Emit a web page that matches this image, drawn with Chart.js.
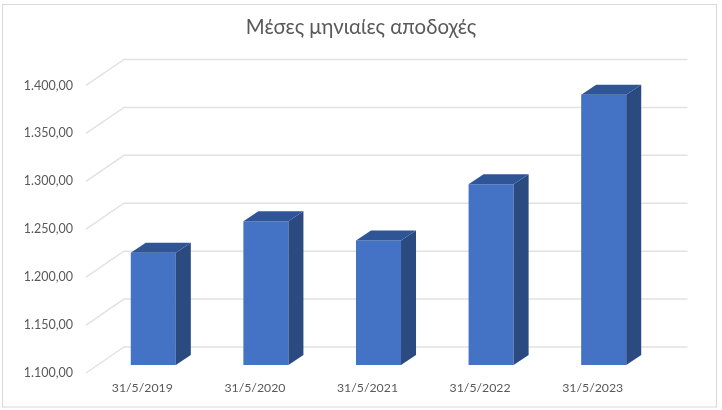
<!DOCTYPE html>
<html lang="el">
<head>
<meta charset="utf-8">
<title>Μέσες μηνιαίες αποδοχές</title>
<script src="https://cdn.jsdelivr.net/npm/chart.js@4"></script>
<style>
    html, body { margin: 0; background: #fff; }
    canvas { display: block; }
</style>
</head>
<body>
<canvas id="salaryChart" width="722" height="410"></canvas>
<script>
const chartTitle = 'Μέσες μηνιαίες αποδοχές';
const categories = ['31/5/2019', '31/5/2020', '31/5/2021', '31/5/2022', '31/5/2023'];
const salaries = [1217, 1250, 1230, 1288.5, 1382];
const yTickLabels = ['1.100,00', '1.150,00', '1.200,00', '1.250,00', '1.300,00', '1.350,00', '1.400,00'];
const yMin = 1100;
const yMax = 1400;

const fontFamily = 'Lato, "Noto Sans", sans-serif';
const textColor = '#595959';

// Fake 3D column look, the pixel positions all come from the scales
const depth3d = {
    id: 'depth3d',
    beforeDraw(chart) {
        const ctx = chart.ctx;
        ctx.save();
        ctx.strokeStyle = '#d9d9d9';
        ctx.lineWidth = 1;
        ctx.strokeRect(2.5, 4.5, 714, 402.5);
        ctx.restore();
    },
    beforeDatasetsDraw(chart) {
        const { ctx, chartArea, scales } = chart;
        const frontX = chartArea.left - 11;
        const backX = chartArea.left + 27;
        const endX = chartArea.right + 27.5;

        ctx.save();
        ctx.strokeStyle = '#e2e2e2';
        ctx.lineWidth = 1.5;
        scales.y.ticks.forEach(tick => {
            const py = scales.y.getPixelForValue(tick.value);
            ctx.beginPath();
            ctx.moveTo(frontX, py + 8);
            ctx.lineTo(backX, py - 18);
            ctx.lineTo(endX, py - 18);
            ctx.stroke();
        });
        ctx.restore();
    },
    afterDatasetsDraw(chart) {
        const ctx = chart.ctx;
        const dx = 15, dy = 10;

        chart.getDatasetMeta(0).data.forEach(bar => {
            const left = bar.x - bar.width / 2;
            const right = bar.x + bar.width / 2;

            ctx.fillStyle = '#2b4a80';
            ctx.beginPath();
            ctx.moveTo(right, bar.y);
            ctx.lineTo(right + dx, bar.y - dy);
            ctx.lineTo(right + dx, bar.base - dy);
            ctx.lineTo(right, bar.base);
            ctx.closePath();
            ctx.fill();

            ctx.fillStyle = '#2f5597';
            ctx.beginPath();
            ctx.moveTo(left, bar.y);
            ctx.lineTo(left + dx, bar.y - dy);
            ctx.lineTo(right + dx, bar.y - dy);
            ctx.lineTo(right, bar.y);
            ctx.closePath();
            ctx.fill();
        });
    }
};

new Chart(document.getElementById('salaryChart'), {
    type: 'bar',
    data: {
        labels: categories,
        datasets: [{
            data: salaries,
            base: yMin,
            backgroundColor: '#4472c4',
            barPercentage: 0.4,
            categoryPercentage: 1
        }]
    },
    options: {
        responsive: false,
        animation: false,
        plugins: {
            legend: { display: false },
            tooltip: { enabled: false },
            title: {
                display: true,
                text: chartTitle,
                color: textColor,
                font: { family: fontFamily, size: 20.4, weight: 'normal' },
                padding: { top: 15, bottom: 38 }
            }
        },
        scales: {
            x: {
                grid: { display: false },
                border: { display: false },
                afterFit(scale) { scale.height = 45; },
                ticks: {
                    color: textColor,
                    font: { family: fontFamily, size: 12.3 },
                    padding: 8,
                    labelOffset: -11,
                    maxRotation: 0,
                    autoSkip: false
                }
            },
            y: {
                min: yMin,
                max: yMax,
                grid: { display: false },
                border: { display: false },
                afterFit(scale) { scale.width = 97; },
                ticks: {
                    stepSize: 50,
                    color: textColor,
                    font: { family: fontFamily, size: 12.5 },
                    padding: 16,
                    labelOffset: 8,
                    callback: (value, index) => yTickLabels[index]
                }
            },
            // empty axis, only keeps the room on the right so the title stays centred on the page
            rightSpace: {
                position: 'right',
                grid: { display: false },
                border: { display: false },
                ticks: { display: false },
                afterFit(scale) { scale.width = 62; }
            }
        }
    },
    plugins: [depth3d]
});
</script>
</body>
</html>
